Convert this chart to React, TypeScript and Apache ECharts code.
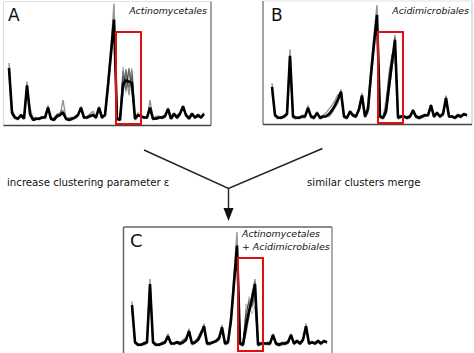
import React, { useEffect, useRef } from "react";
import * as echarts from "echarts";

// ---- data (relative signal, 0..100) ----
const positions = Array.from({ length: 66 }, (_, i) => String(i));

const actinoBase = [46, 10, 6, 5, 8, 5, 32, 9, 4, 5, 5, 6, 6, 14, 5, 4, 7, 8, 10, 5, 4, 5, 6, 8, 14, 6, 6, 7, 8, 6, 14, 6, 8, 32, 58, 85, 5, 4, 33, 36, 35, 34, 5, 8, 7, 6, 6, 14, 5, 5, 6, 6, 7, 13, 5, 9, 6, 9, 15, 8, 5, 9, 6, 8, 6, 9];
const actinoV1 = [42, 8, 5, 6, 7, 6, 28, 14, 5, 4, 6, 5, 7, 12, 6, 5, 9, 7, 20, 6, 5, 4, 7, 9, 12, 5, 7, 9, 11, 7, 12, 5, 9, 36, 64, 98, 6, 5, 44, 28, 46, 26, 6, 10, 6, 7, 5, 20, 6, 6, 5, 7, 8, 11, 6, 8, 8, 10, 13, 9, 6, 8, 7, 6, 7, 8];
const actinoV2 = [50, 12, 7, 4, 9, 5, 35, 7, 6, 6, 4, 7, 5, 16, 4, 6, 8, 10, 12, 4, 6, 6, 5, 7, 15, 7, 5, 8, 9, 5, 15, 7, 7, 28, 54, 78, 4, 6, 26, 45, 24, 44, 4, 7, 8, 5, 7, 12, 4, 7, 7, 5, 6, 14, 7, 10, 5, 8, 16, 7, 7, 10, 5, 9, 5, 10];
const actinoFan = [
  [4, 40, 30, 42, 28, 5],
  [5, 27, 44, 30, 40, 6],
  [4, 36, 38, 31, 37, 5],
  [5, 47, 33, 36, 32, 4],
  [4, 30, 34, 45, 35, 5],
  [6, 38, 26, 38, 46, 5],
  [5, 33, 40, 34, 30, 6],
];

const acidiBase = [30, 7, 5, 5, 6, 8, 55, 6, 5, 5, 6, 6, 13, 6, 5, 9, 5, 6, 6, 8, 11, 15, 20, 26, 6, 5, 10, 7, 6, 12, 23, 6, 12, 40, 65, 88, 6, 5, 10, 30, 50, 68, 5, 6, 6, 5, 6, 11, 6, 5, 6, 7, 7, 15, 6, 9, 6, 8, 21, 6, 6, 5, 7, 6, 8, 7];
const acidiV1 = [26, 8, 6, 4, 7, 9, 48, 7, 6, 4, 7, 7, 11, 7, 6, 8, 6, 7, 9, 12, 15, 19, 24, 22, 7, 6, 9, 8, 7, 10, 20, 7, 16, 46, 72, 96, 7, 6, 14, 38, 56, 60, 6, 7, 5, 6, 7, 9, 7, 6, 7, 8, 6, 13, 7, 8, 7, 9, 18, 7, 5, 6, 8, 7, 7, 8];
const acidiV2 = [33, 6, 4, 6, 5, 7, 60, 5, 4, 6, 5, 5, 15, 5, 4, 10, 4, 5, 7, 6, 9, 13, 17, 28, 5, 4, 11, 6, 5, 13, 25, 5, 9, 35, 60, 82, 5, 4, 8, 26, 45, 72, 4, 5, 7, 4, 5, 12, 5, 4, 5, 6, 8, 16, 5, 10, 5, 7, 23, 5, 7, 4, 6, 5, 9, 6];
const acidiFan = [
  [5, 18, 40, 55, 62, 6],
  [6, 12, 28, 44, 58, 5],
  [5, 22, 34, 50, 70, 5],
  [4, 8, 36, 47, 55, 6],
  [5, 15, 44, 52, 48, 5],
];

const mergedBase = [37, 7, 5, 5, 6, 7, 54, 7, 5, 5, 6, 7, 12, 6, 6, 7, 6, 7, 9, 16, 6, 7, 9, 14, 20, 6, 6, 7, 8, 10, 19, 6, 7, 25, 55, 85, 6, 5, 20, 32, 42, 54, 5, 6, 6, 6, 6, 13, 6, 5, 6, 6, 7, 13, 6, 8, 6, 9, 20, 6, 7, 6, 8, 6, 8, 7];
const mergedV1 = [33, 8, 6, 4, 7, 8, 48, 8, 6, 4, 7, 8, 10, 7, 5, 8, 7, 9, 11, 13, 7, 8, 11, 16, 17, 7, 7, 6, 9, 12, 16, 7, 9, 30, 62, 96, 7, 6, 30, 40, 36, 44, 6, 7, 5, 7, 7, 11, 7, 6, 7, 7, 8, 11, 7, 9, 7, 10, 17, 7, 6, 7, 9, 7, 7, 8];
const mergedV2 = [40, 6, 4, 6, 5, 6, 58, 6, 4, 6, 5, 6, 14, 5, 7, 6, 5, 6, 8, 18, 5, 6, 8, 12, 22, 5, 5, 8, 7, 9, 21, 5, 6, 22, 50, 80, 5, 4, 14, 28, 46, 58, 4, 5, 7, 5, 5, 14, 5, 4, 5, 5, 6, 14, 5, 7, 5, 8, 22, 5, 8, 5, 7, 5, 9, 6];
const mergedFan = [
  [5, 34, 38, 30, 36, 5],
  [6, 26, 42, 38, 48, 6],
  [5, 18, 30, 44, 56, 5],
  [4, 38, 32, 40, 34, 6],
  [5, 24, 44, 34, 50, 5],
  [6, 30, 28, 46, 42, 5],
];
const fanStart = 37;

const FONT = "DejaVu Sans";

function padFan(vals: number[]) {
  const arr: (number | string)[] = positions.map(() => "-");
  vals.forEach((v, k) => {
    arr[fanStart + k] = v;
  });
  return arr;
}

function panelSeries(gi: number, base: number[], vars: number[][], fan: number[][]) {
  const s: any[] = [];
  vars.forEach((v) =>
    s.push({
      type: "line",
      xAxisIndex: gi,
      yAxisIndex: gi,
      data: v,
      symbol: "none",
      lineStyle: { width: 1.4, color: "rgba(0,0,0,0.42)" },
      silent: true,
    })
  );
  fan.forEach((f) =>
    s.push({
      type: "line",
      xAxisIndex: gi,
      yAxisIndex: gi,
      data: padFan(f),
      symbol: "none",
      lineStyle: { width: 0.8, color: "rgba(0,0,0,0.3)" },
      silent: true,
    })
  );
  s.push({
    type: "line",
    xAxisIndex: gi,
    yAxisIndex: gi,
    data: base,
    symbol: "none",
    lineStyle: { width: 2.6, color: "#000" },
    silent: true,
  });
  return s;
}

export default function App() {
  const ref = useRef<HTMLDivElement>(null);
  useEffect(() => {
    if (!ref.current) return;
    const chart = echarts.init(ref.current, undefined, { renderer: "svg" });
    const grids = [
      { left: 9, top: 1, width: 195, height: 124 },
      { left: 272, top: 0, width: 195, height: 124 },
      { left: 132, top: 227, width: 195, height: 124 },
    ];
    const xAxis = grids.map((_, i) => ({
      type: "category",
      gridIndex: i,
      data: positions,
      boundaryGap: false,
      show: false,
    }));
    const yAxis = grids.map((_, i) => ({
      type: "value",
      gridIndex: i,
      min: 0,
      max: 100,
      show: false,
    }));
    const series = [
      ...panelSeries(0, actinoBase, [actinoV1, actinoV2], actinoFan),
      ...panelSeries(1, acidiBase, [acidiV1, acidiV2], acidiFan),
      ...panelSeries(2, mergedBase, [mergedV1, mergedV2], mergedFan),
    ];
    const ln = (x1: number, y1: number, x2: number, y2: number, color: string, w = 1.2) => ({
      type: "line",
      shape: { x1, y1, x2, y2 },
      style: { stroke: color, lineWidth: w },
      z: 5,
    });
    const txt = (x: number, y: number, text: string, size: number, extra: any = {}) => ({
      type: "text",
      x,
      y,
      style: {
        text,
        fontFamily: FONT,
        fontSize: size,
        fill: "#111",
        verticalAlign: "middle",
        ...extra,
      },
      z: 10,
    });
    const red = (x: number, y: number, w: number, h: number) => ({
      type: "rect",
      shape: { x, y, width: w, height: h },
      style: { fill: "none", stroke: "#e01010", lineWidth: 2 },
      z: 20,
    });
    const graphic = [
      // panel A frame
      ln(3.5, 1.5, 211, 1.5, "#e2e2e2"),
      ln(3.5, 1.5, 3.5, 125.5, "#dddddd"),
      ln(211, 1.5, 211, 125.5, "#666"),
      ln(3.5, 125.5, 211, 125.5, "#444", 1.5),
      // panel B frame
      ln(263, 1, 472, 1, "#e2e2e2"),
      ln(263, 1, 263, 124.5, "#666"),
      ln(472, 1, 472, 124.5, "#cccccc"),
      ln(263, 124.5, 472, 124.5, "#444", 1.5),
      // panel C frame
      ln(123.5, 227, 332, 227, "#666", 1.5),
      ln(123.5, 227, 123.5, 353, "#666", 1.5),
      ln(332, 227, 332, 353, "#777"),
      // red boxes
      red(116, 32, 25, 92),
      red(378, 32, 25, 91),
      red(238, 258, 25, 93),
      // panel letters
      txt(8, 15, "A", 17),
      txt(271, 15, "B", 17),
      txt(130, 240, "C", 18),
      // taxa labels
      txt(207, 10, "Actinomycetales", 9.4, { align: "right", fontStyle: "italic" }),
      txt(469, 10, "Acidimicrobiales", 9.4, { align: "right", fontStyle: "italic" }),
      txt(242, 233.5, "Actinomycetales", 9.4, { fontStyle: "italic" }),
      txt(242, 246, "+ Acidimicrobiales", 9.4, { fontStyle: "italic" }),
      // captions
      txt(7, 182, "increase clustering parameter ε", 10.2),
      txt(307, 182, "similar clusters merge", 10.2),
      // merge arrows
      {
        type: "polyline",
        shape: { points: [[144, 150], [228.5, 188.5], [322.5, 148.5]] },
        style: { stroke: "#222", lineWidth: 1.4, fill: "none" },
        z: 5,
      },
      ln(228.5, 188.5, 228.5, 210, "#222", 1.4),
      {
        type: "polygon",
        shape: { points: [[223.5, 208], [233.5, 208], [228.5, 221]] },
        style: { fill: "#111" },
        z: 5,
      },
    ];
    chart.setOption({
      animation: false,
      backgroundColor: "#fff",
      grid: grids,
      xAxis,
      yAxis,
      series,
      graphic,
    });
    return () => chart.dispose();
  }, []);
  return (
    <div
      ref={ref}
      style={{ width: 474, height: 353, position: "absolute", left: 0, top: 0 }}
    />
  );
}
